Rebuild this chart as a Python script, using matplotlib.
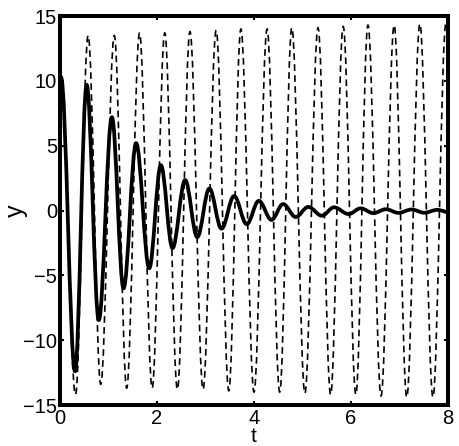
import matplotlib
matplotlib.use("Agg")
import matplotlib.pyplot as plt
from matplotlib.path import Path
from matplotlib.patches import PathPatch

# Extrema (time, value) of the damped response (solid)
solid_t = [0.02, 0.31, 0.55, 0.80, 1.07, 1.31, 1.57, 1.84, 2.08, 2.32, 2.58, 2.83,
           3.08, 3.33, 3.59, 3.85, 4.10, 4.36, 4.60, 4.86, 5.12, 5.40, 5.65, 5.95,
           6.20, 6.46, 6.72, 6.98, 7.25, 7.51, 7.78, 8.04]
solid_y = [10.3, -12.4, 9.7, -8.45, 7.2, -6.0, 5.2, -4.45, 3.5, -2.9, 2.35, -2.05,
           1.7, -1.4, 1.12, -1.05, 0.75, -0.72, 0.5, -0.5, 0.28, -0.4, 0.25, -0.27,
           0.17, -0.2, 0.1, -0.18, 0.08, -0.17, 0.05, -0.15]

# Extrema (time, value) of the undamped response (dashed)
dashed_t = [0.02, 0.32, 0.58, 0.84, 1.12, 1.375, 1.64, 1.90, 2.16, 2.42, 2.68, 2.95,
            3.22, 3.48, 3.73, 4.00, 4.27, 4.53, 4.78, 5.05, 5.32, 5.58, 5.84, 6.10,
            6.35, 6.62, 6.89, 7.15, 7.42, 7.69, 7.96, 8.22]
dashed_y = [10.3, -14.2, 13.5, -13.4, 13.5, -13.7, 13.7, -13.7, 13.7, -13.8, 13.8, -13.8,
            13.9, -13.9, 14.0, -14.0, 14.0, -14.0, 14.1, -14.1, 14.1, -14.2, 14.2, -14.2,
            14.3, -14.3, 14.3, -14.4, 14.4, -14.4, 14.5, -14.5]

x_ticks = [0, 2, 4, 6, 8]
y_ticks = [-15, -10, -5, 0, 5, 10, 15]
x_label = "t"
y_label = "y"


def smooth_path(ts, ys, k=0.3634):
    """Cubic Bezier path through extrema with horizontal tangents."""
    verts = [(ts[0], ys[0])]
    codes = [Path.MOVETO]
    for i in range(len(ts) - 1):
        dt = ts[i + 1] - ts[i]
        verts += [(ts[i] + k * dt, ys[i]),
                  (ts[i + 1] - k * dt, ys[i + 1]),
                  (ts[i + 1], ys[i + 1])]
        codes += [Path.CURVE4] * 3
    return Path(verts, codes)


plt.rcParams["font.family"] = ["Liberation Sans", "DejaVu Sans"]
plt.rcParams["font.size"] = 14

fig = plt.figure(figsize=(4.59, 4.46), dpi=100)
ax = fig.add_axes([0.1307, 0.0919, 0.8453, 0.8721])

ax.add_patch(PathPatch(smooth_path(dashed_t, dashed_y), fill=False,
                       edgecolor="black", lw=1.2, linestyle=(0, (4.0, 2.6)),
                       transform=ax.transData, zorder=2))
ax.add_patch(PathPatch(smooth_path(solid_t, solid_y), fill=False,
                       edgecolor="black", lw=2.7, capstyle="round",
                       joinstyle="round", transform=ax.transData, zorder=3))

ax.set_xlim(0, 8)
ax.set_ylim(-15, 15)
ax.set_xticks(x_ticks)
ax.set_yticks(y_ticks)
ax.set_xticklabels([str(v) for v in x_ticks])
ax.set_yticklabels([("\u2212" + str(-v)) if v < 0 else str(v) for v in y_ticks])

for s in ax.spines.values():
    s.set_linewidth(2.9)
    s.set_color("black")
ax.tick_params(direction="in", length=3, width=1.5, top=True, right=True,
               labelsize=14.5, colors="black")
ax.tick_params(axis="x", pad=3)
ax.tick_params(axis="y", pad=2)

ax.set_xlabel(x_label, fontsize=15, va="bottom")
ax.xaxis.set_label_coords(0.5, -0.1045)
ax.set_ylabel(y_label, fontsize=18, labelpad=-3)

fig.savefig("out.png", dpi=100, facecolor="white")
